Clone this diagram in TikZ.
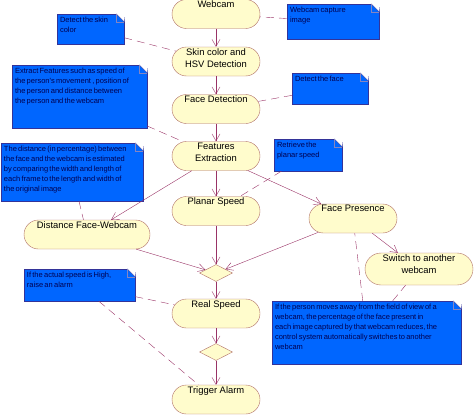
\documentclass[tikz,border=0pt]{standalone}
\usepackage{fontspec}
\setmainfont{Liberation Sans}
\newfontfamily\notefont[WordSpace=0.6]{Liberation Sans}
\usepackage{xcolor}
\usetikzlibrary{arrows.meta,shapes.misc,shapes.geometric}
\definecolor{actfill}{RGB}{255,252,204}
\definecolor{actline}{RGB}{176,112,104}
\definecolor{linecol}{RGB}{153,51,102}
\definecolor{notefill}{RGB}{0,102,255}
\definecolor{noteline}{RGB}{51,51,153}
\definecolor{notetext}{RGB}{0,0,80}
\tikzset{
  act/.style={rounded rectangle, draw=actline, fill=actfill, minimum width=88pt, minimum height=29pt, inner sep=0pt},
  acttxt/.style={anchor=north, inner sep=1.5pt, align=center, font=\fontsize{9.4}{12}\selectfont},
  choice/.style={diamond, draw=actline, fill=actfill, minimum width=33pt, minimum height=17pt, inner sep=0pt},
  note/.style={rectangle, draw=noteline, fill=notefill, inner sep=0pt},
  notetxt/.style={anchor=north west, text=notetext, align=left, inner xsep=3pt, inner ysep=2.8pt, font=\notefont\fontsize{7.5}{10}\selectfont},
  fold/.style={draw=noteline!60, line width=0.4pt},
  flow/.style={draw=linecol, -{Straight Barb[length=7pt, width=8pt]}},
  notelink/.style={draw=linecol, dash pattern=on 8pt off 5pt}
}

\begin{document}
\begin{tikzpicture}[x=1pt,y=-1pt]
\useasboundingbox (0,0) rectangle (474,415);
% activities
\node[act, label={[acttxt]north:Webcam}] (webcam) at (216,14) {};
\node[act, label={[acttxt]north:Skin color and\\HSV Detection}] (skin) at (216,61.5) {};
\node[act, label={[acttxt]north:Face Detection}] (face) at (216,109) {};
\node[act, label={[acttxt]north:Features\\Extraction}] (feat) at (216,156) {};
\node[act, label={[acttxt]north:Planar Speed}] (planar) at (216,211) {};
\node[act, minimum width=126pt, label={[acttxt]north:Distance Face-Webcam}] (dist) at (87,234.5) {};
\node[act, label={[acttxt]north:Face Presence}] (pres) at (353,218.5) {};
\node[act, minimum width=108pt, minimum height=32pt, label={[acttxt]north:Switch to another\\webcam}] (switch) at (419,269) {};
\node[choice] (merge) at (216,273) {};
\node[act, label={[acttxt]north:Real Speed}] (real) at (216,313.5) {};
\node[choice] (test) at (216,352) {};
\node[act, label={[acttxt]north:Trigger Alarm}] (alarm) at (216,399.5) {};
% notes
\node[note, minimum width=67pt, minimum height=30pt, label={[notetxt]north west:Detect the skin\\color}] (nskin) at (90.5,29) {};
\node[note, minimum width=92pt, minimum height=35pt, label={[notetxt]north west:Webcam capture\\image}] (ncap) at (333,21.5) {};
\node[note, minimum width=135pt, minimum height=63pt, label={[notetxt]north west:Extract Features such as speed of\\the person's movement , position of\\the person and distance between\\the person and the webcam}] (nfeat) at (79.5,96.5) {};
\node[note, minimum width=76pt, minimum height=31pt, label={[notetxt]north west:Detect the face}] (nface) at (330,88.5) {};
\node[note, minimum width=142pt, minimum height=58pt, label={[notetxt]north west:The distance (in percentage) between\\the face and the webcam is estimated\\by comparing the width and length of\\each frame  to the length and width of\\the original image}] (ndist) at (72,172) {};
\node[note, minimum width=68pt, minimum height=32pt, label={[notetxt]north west:Retrieve the\\planar speed}] (nplan) at (308,155) {};
\node[note, minimum width=111pt, minimum height=32pt, label={[notetxt]north west:If the actual speed is High,\\raise an alarm}] (nalarm) at (79.5,285) {};
\node[note, minimum width=189pt, minimum height=63pt, label={[notetxt]north west:If the person moves away from the field of view of a\\webcam, the percentage of the  face present in\\each image captured by that webcam reduces, the\\control system automatically switches to another\\webcam}] (nswitch) at (366.5,332.5) {};
% folded corners
\foreach \n in {nskin,ncap,nfeat,nface,ndist,nplan,nalarm,nswitch}{
  \fill[white] ([xshift=-8pt]\n.north east) -- ([shift={(1pt,1pt)}]\n.north east) -- ([yshift=-8pt]\n.north east) -- cycle;
  \draw[noteline] ([xshift=-8pt]\n.north east) -- ([yshift=-8pt]\n.north east);
  \draw[fold] ([xshift=-8pt]\n.north east) -- ([shift={(-8pt,-8pt)}]\n.north east) -- ([yshift=-8pt]\n.north east);
}
% flow
\draw[flow] (webcam) -- (skin);
\draw[flow] (skin) -- (face);
\draw[flow] (face) -- (feat);
\draw[flow] (feat) -- (planar);
\draw[flow] (feat) -- (dist);
\draw[flow] (feat) -- (pres);
\draw[flow] (planar) -- (merge);
\draw[flow] (dist) -- (merge);
\draw[flow] (pres) -- (merge);
\draw[flow] (pres) -- (switch);
\draw[flow] (merge) -- (real);
\draw[flow] (real) -- (test);
\draw[flow] (test) -- (alarm);
% note links
\draw[notelink] (nskin) -- (skin);
\draw[notelink] (ncap) -- (webcam);
\draw[notelink] (nfeat) -- (feat);
\draw[notelink] (nface) -- (face);
\draw[notelink] (ndist) -- (dist);
\draw[notelink] (nplan) -- (planar);
\draw[notelink] (nalarm) -- (real);
\draw[notelink] (nalarm) -- (alarm);
\draw[notelink] (nswitch) -- (pres);
\draw[notelink] (nswitch) -- (switch);
\end{tikzpicture}
\end{document}
